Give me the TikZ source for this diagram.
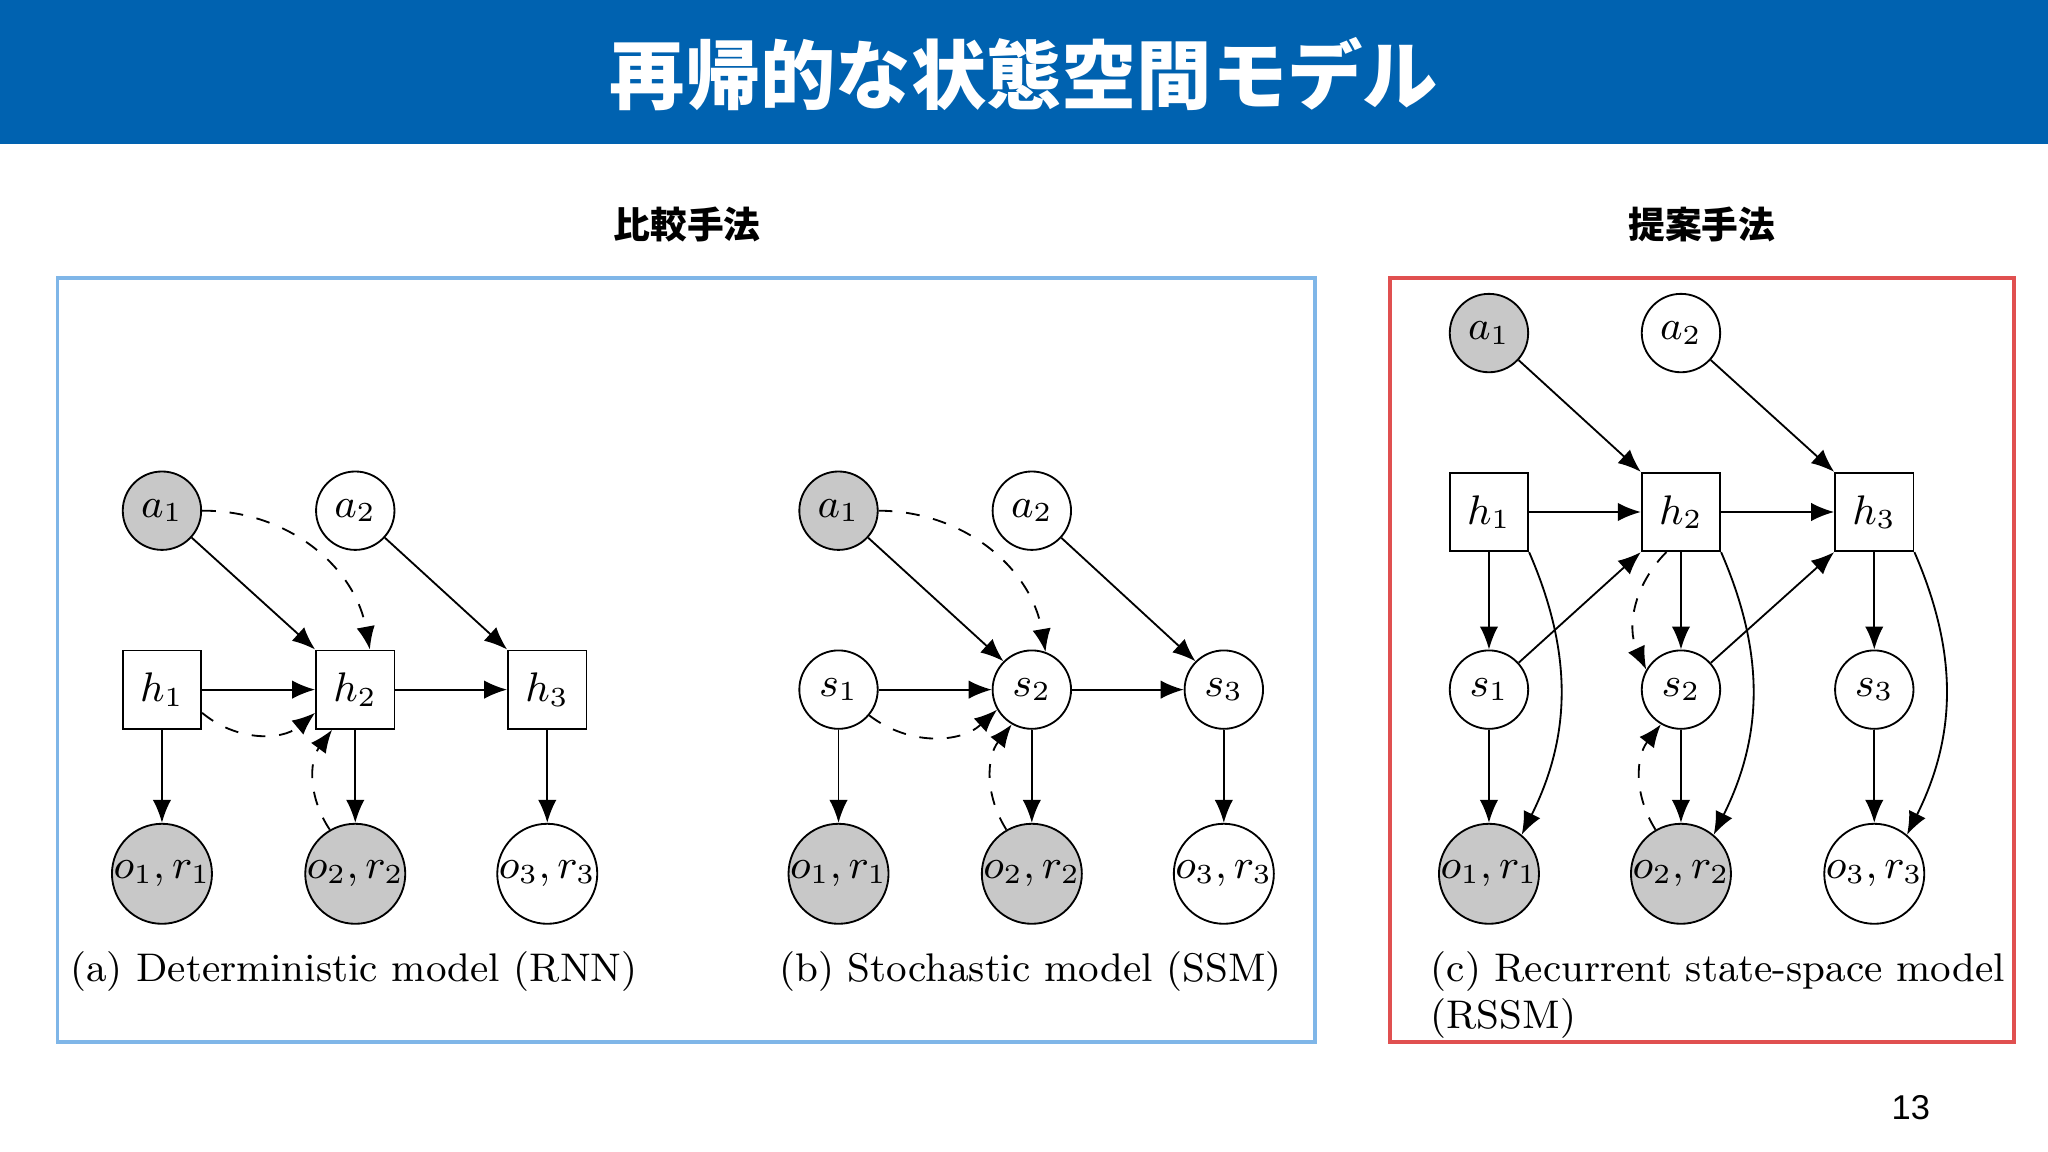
\documentclass[tikz,border=0pt]{standalone}
\usepackage{fontspec}
\newfontfamily\cjk{Noto Sans CJK JP}
\newfontfamily\lib{Liberation Sans}
\usetikzlibrary{arrows.meta}
\definecolor{barblue}{HTML}{0062B0}
\definecolor{boxblue}{HTML}{7FB6E8}
\definecolor{boxred}{HTML}{E05050}
\definecolor{obsgray}{HTML}{C8C8C8}
\begin{document}
\begin{tikzpicture}[x=0.01cm,y=-0.01cm,
  var/.style={circle,draw,minimum size=0.6cm,inner sep=0pt,font=\fontsize{9}{10}\selectfont},
  obs/.style={circle,draw,minimum size=0.7cm,inner sep=0pt,font=\fontsize{9}{10}\selectfont},
  det/.style={rectangle,draw,minimum size=0.6cm,inner sep=0pt,font=\fontsize{9}{10}\selectfont},
  gr/.style={fill=obsgray},
  ar/.style={-{Latex[length=5pt,width=4pt]},thin},
  da/.style={ar,dashed},
  captxt/.style={font=\fontsize{8.7}{10.5}\selectfont},
  head/.style={font=\cjk\bfseries\fontsize{8}{10}\selectfont}]
\useasboundingbox (0,0) rectangle (1568,882);
\fill[white] (0,0) rectangle (1568,882);
\fill[barblue] (0,0) rectangle (1568,110);
\node[font=\cjk\bfseries\fontsize{16.4}{18}\selectfont,text=white] (title) at (784,57) {再帰的な状態空間モデル};
\node[head] (hl) at (526,172) {比較手法};
\node[head] (hr) at (1303,172) {提案手法};
\draw[boxblue,thick] (44,213) rectangle (1007,798);
\draw[boxred,thick] (1064,213) rectangle (1542,798);
\node[font=\lib\fontsize{7.5}{9}\selectfont] (pg) at (1463,848) {13};

% panel a
\node[var,gr] (aa1) at (124,391) {$a_1$};
\node[var] (aa2) at (272,391) {$a_2$};
\node[det] (ah1) at (124,528) {$h_1$};
\node[det] (ah2) at (272,528) {$h_2$};
\node[det] (ah3) at (419,528) {$h_3$};
\node[obs,gr] (ao1) at (124,669) {$o_1,r_1$};
\node[obs,gr] (ao2) at (272,669) {$o_2,r_2$};
\node[obs] (ao3) at (419,669) {$o_3,r_3$};
\draw[ar] (aa1) -- (ah2.north west);
\draw[ar] (aa2) -- (ah3.north west);
\draw[da] (aa1.east) to[bend left=40] (ah2.70);
\draw[ar] (ah1) -- (ah2);
\draw[ar] (ah2) -- (ah3);
\draw[da] (ah1.-30) to[bend right=40] (ah2.210);
\draw[da] (ao2.120) to[bend left=35] (ah2.240);
\draw[ar] (ah1) -- (ao1);
\draw[ar] (ah2) -- (ao2);
\draw[ar] (ah3) -- (ao3);
\node[captxt] (capa) at (271,744) {(a) Deterministic model (RNN)};

% panel b
\node[var,gr] (ba1) at (642,391) {$a_1$};
\node[var] (ba2) at (790,391) {$a_2$};
\node[var] (bs1) at (642,528) {$s_1$};
\node[var] (bs2) at (790,528) {$s_2$};
\node[var] (bs3) at (937,528) {$s_3$};
\node[obs,gr] (bo1) at (642,669) {$o_1,r_1$};
\node[obs,gr] (bo2) at (790,669) {$o_2,r_2$};
\node[obs] (bo3) at (937,669) {$o_3,r_3$};
\draw[ar] (ba1) -- (bs2.north west);
\draw[ar] (ba2) -- (bs3.north west);
\draw[da] (ba1.east) to[bend left=40] (bs2.70);
\draw[ar] (bs1) -- (bs2);
\draw[ar] (bs2) -- (bs3);
\draw[da] (bs1.-40) to[bend right=40] (bs2.210);
\draw[da] (bo2.120) to[bend left=35] (bs2.240);
\draw[ar] (bs1) -- (bo1);
\draw[ar] (bs2) -- (bo2);
\draw[ar] (bs3) -- (bo3);
\node[captxt] (capb) at (789,744) {(b) Stochastic model (SSM)};

% panel c
\node[var,gr] (ca1) at (1140,255) {$a_1$};
\node[var] (ca2) at (1287,255) {$a_2$};
\node[det] (ch1) at (1140,392) {$h_1$};
\node[det] (ch2) at (1287,392) {$h_2$};
\node[det] (ch3) at (1435,392) {$h_3$};
\node[var] (cs1) at (1140,528) {$s_1$};
\node[var] (cs2) at (1287,528) {$s_2$};
\node[var] (cs3) at (1435,528) {$s_3$};
\node[obs,gr] (co1) at (1140,669) {$o_1,r_1$};
\node[obs,gr] (co2) at (1287,669) {$o_2,r_2$};
\node[obs] (co3) at (1435,669) {$o_3,r_3$};
\draw[ar] (ca1) -- (ch2.north west);
\draw[ar] (ca2) -- (ch3.north west);
\draw[ar] (ch1) -- (ch2);
\draw[ar] (ch2) -- (ch3);
\draw[ar] (cs1) -- (ch2.south west);
\draw[ar] (cs2) -- (ch3.south west);
\foreach \i in {1,2,3}{
  \draw[ar] (ch\i) -- (cs\i);
  \draw[ar] (cs\i) -- (co\i);
  \draw[ar] (ch\i.south east) to[bend left=25] (co\i.50);
}
\draw[da] (ch2.250) to[bend right=35] (cs2.150);
\draw[da] (co2.120) to[bend left=35] (cs2.240);
\node[captxt,anchor=west] (capc1) at (1083,744) {(c) Recurrent state-space model};
\node[captxt,anchor=west] (capc2) at (1083,780) {(RSSM)};
\end{tikzpicture}
\end{document}
